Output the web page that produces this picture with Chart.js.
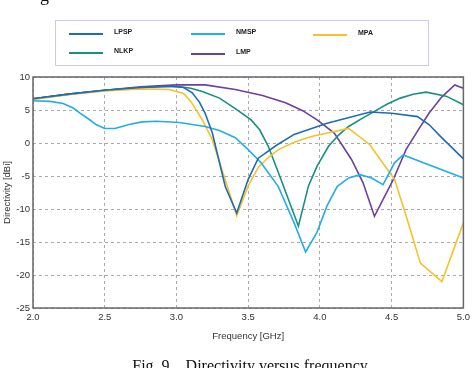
<!DOCTYPE html>
<html>
<head>
<meta charset="utf-8">
<script src="https://cdn.jsdelivr.net/npm/chart.js@4"></script>
<style>
html,body{margin:0;padding:0;background:#fff;overflow:hidden;}
#wrap{position:relative;width:474px;height:368px;}
#wrap canvas{position:absolute;left:0;top:0;}
#legend{position:absolute;left:55px;top:20px;width:374px;height:46px;border:1px solid #c9c9f2;box-sizing:border-box;}
.item{position:absolute;font:bold 7px "Liberation Sans",Arial,sans-serif;color:#222;}
.item i{position:absolute;left:0;width:34px;height:2px;}
.item span{position:absolute;left:45px;top:-5px;white-space:nowrap;}
#cap{position:absolute;left:0;width:474px;top:358px;text-align:center;font:16px "Liberation Serif","Times New Roman",serif;line-height:16px;color:#111;padding-left:26px;box-sizing:border-box;}
#prev{position:absolute;left:40px;top:-15px;font:18px "Liberation Serif",serif;color:#111;}
</style>
</head>
<body>
<div id="wrap">
<canvas id="c" width="474" height="368"></canvas>
<div id="prev">g</div>
<div id="legend"></div>
<div id="cap">Fig. 9.&nbsp;&nbsp;&nbsp;Directivity versus frequency</div>
</div>
<script>
/* datos */
const names = ["LPSP", "NMSP", "MPA", "NLKP", "LMP"];
const colors = ["#1f6cb6", "#22aee6", "#f6c12a", "#17907e", "#6c3fa3"];

const lpspF = [2.0,2.25,2.5,2.75,2.95,3.05,3.11,3.16,3.2,3.25,3.34,3.42,3.5,3.57,3.7,3.82,4.05,4.35,4.5,4.68,4.76,4.84,5.0];
const lpspD = [6.7,7.4,8.0,8.4,8.6,8.4,7.6,6.2,4.5,1.5,-6.6,-10.6,-5.5,-2.3,-0.3,1.3,3.0,4.7,4.5,4.0,2.8,1.0,-2.4];

const nmspF = [2.0,2.12,2.21,2.28,2.33,2.39,2.44,2.5,2.57,2.67,2.76,2.86,3.02,3.2,3.3,3.41,3.5,3.59,3.71,3.82,3.9,3.98,4.05,4.12,4.2,4.28,4.36,4.44,4.52,4.58,5.0];
const nmspD = [6.4,6.3,6.0,5.3,4.5,3.6,2.8,2.2,2.2,2.8,3.2,3.3,3.1,2.5,1.9,0.8,-1.0,-3.0,-6.6,-12.1,-16.5,-13.5,-9.5,-6.6,-5.3,-4.8,-5.3,-6.3,-3.0,-1.8,-5.3];

const mpaF = [2.0,2.25,2.5,2.75,2.95,3.05,3.1,3.18,3.25,3.42,3.5,3.57,3.64,3.71,3.82,3.94,4.2,4.35,4.42,4.52,4.6,4.7,4.85,5.0];
const mpaD = [6.6,7.3,7.9,8.2,8.1,7.5,6.3,3.5,0.5,-11.0,-6.5,-3.7,-2.2,-1.0,0.1,1.0,2.2,-0.3,-2.5,-5.5,-11.0,-18.2,-21.0,-12.1];

const nlkpF = [2.0,2.25,2.5,2.75,3.0,3.1,3.18,3.3,3.41,3.52,3.58,3.64,3.73,3.85,3.92,3.98,4.06,4.13,4.2,4.3,4.38,4.47,4.56,4.65,4.74,4.88,5.0];
const nlkpD = [6.7,7.4,8.0,8.4,8.6,8.3,7.8,6.8,5.2,3.5,2.0,-0.5,-5.6,-12.6,-6.5,-3.5,-0.5,1.2,2.5,3.8,4.8,5.9,6.8,7.4,7.7,7.1,5.8];

const lmpF = [2.0,2.25,2.5,2.75,3.0,3.2,3.41,3.6,3.76,3.88,3.98,4.1,4.22,4.3,4.38,4.51,4.6,4.68,4.76,4.85,4.94,5.0];
const lmpD = [6.7,7.4,8.0,8.5,8.8,8.8,8.1,7.2,6.1,4.9,3.5,1.5,-2.5,-6.0,-11.1,-5.6,-1.0,1.8,4.5,7.0,8.8,8.3];

const xTicks = [2.0,2.5,3.0,3.5,4.0,4.5,5.0];
const yTicks = [10,5,0,-5,-10,-15,-20,-25];

const series = [[lpspF,lpspD],[nmspF,nmspD],[mpaF,mpaD],[nlkpF,nlkpD],[lmpF,lmpD]];

/* =========================
   LEYENDA (html)
========================= */
const legPos = [[13,12],[135,12],[257,13],[13,31],[135,32]];
const leg = document.getElementById("legend");
names.forEach((n,i)=>{
  const d = document.createElement("div");
  d.className = "item";
  d.style.left = legPos[i][0] + "px";
  d.style.top = legPos[i][1] + "px";
  d.innerHTML = '<i style="background:'+colors[i]+'"></i><span>'+n+'</span>';
  leg.appendChild(d);
});

/* caja del area */
const boxPlugin = {
  id: "box",
  afterDraw(chart){
    const a = chart.chartArea, ctx = chart.ctx;
    ctx.save();
    ctx.strokeStyle = "#666";
    ctx.lineWidth = 1.5;
    ctx.strokeRect(a.left, a.top, a.right - a.left, a.bottom - a.top);
    ctx.restore();
  }
};

const tickFont = {family: "'Liberation Sans', Arial, sans-serif", size: 9.5};

new Chart(document.getElementById("c"), {
  type: "line",
  data: {
    datasets: series.map((s,i)=>({
      label: names[i],
      data: s[0].map((f,k)=>({x: f, y: s[1][k]})),
      borderColor: colors[i],
      borderWidth: 1.6,
      pointRadius: 0,
      tension: 0,
      fill: false
    }))
  },
  options: {
    responsive: false,
    animation: false,
    devicePixelRatio: 1,
    layout: {padding: {top: 77, right: 7, left: 0, bottom: 0}},
    plugins: {legend: {display: false}, tooltip: {enabled: false}},
    scales: {
      x: {
        type: "linear", min: 2, max: 5,
        afterBuildTicks: s => { s.ticks = xTicks.map(v=>({value: v})); },
        afterFit: s => { s.height = 60; },
        ticks: {color: "#333", font: tickFont, padding: 4, maxRotation: 0, callback: v => v.toFixed(1)},
        grid: {color: "#aaa", lineWidth: 1, drawTicks: false},
        border: {display: false, dash: [3,3]},
        title: {display: true, text: "Frequency [GHz]", color: "#333", font: tickFont, padding: {top: 0, bottom: 26}}
      },
      y: {
        min: -25, max: 10,
        afterBuildTicks: s => { s.ticks = yTicks.map(v=>({value: v})); },
        afterFit: s => { s.width = 33; },
        ticks: {color: "#333", font: tickFont, padding: 3},
        grid: {color: "#aaa", lineWidth: 1, drawTicks: false},
        border: {display: false, dash: [3,3]},
        title: {display: true, text: "Directivity [dBi]", color: "#333", font: tickFont, padding: {top: 2, bottom: 2}}
      }
    }
  },
  plugins: [boxPlugin]
});
</script>
</body>
</html>
